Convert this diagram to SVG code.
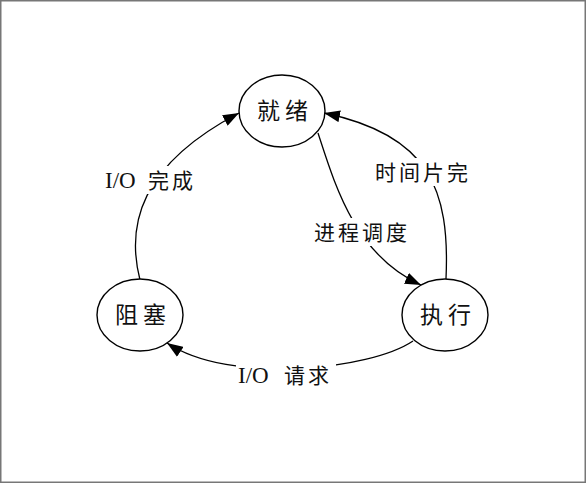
<svg xmlns="http://www.w3.org/2000/svg" width="586" height="483" viewBox="0 0 586 483">
<style>
.node ellipse{fill:#fff;stroke:#000;stroke-width:1.4}
.node text{font-family:"Liberation Serif","Noto Sans CJK SC",serif;font-size:23px;fill:#111;text-anchor:middle;letter-spacing:5px}
.edge path{fill:none;stroke:#000;stroke-width:1.3}
.lbl{font-family:"Liberation Serif","Noto Sans CJK SC",serif;font-size:21px;fill:#111;text-anchor:middle;letter-spacing:3px}
.lbl.s{text-anchor:start}
.io{letter-spacing:0;font-size:23px}
.bg{fill:#fff}
</style>
<defs>
<marker id="arr" markerUnits="userSpaceOnUse" markerWidth="17" markerHeight="12" refX="16" refY="6" orient="auto">
<path d="M0,0 L16,6 L0,12 z" fill="#000"/>
</marker>
</defs>
<rect x="0" y="0" width="586" height="483" fill="#fff"/>
<rect x="0.75" y="0.75" width="584.5" height="481.5" fill="none" stroke="#777" stroke-width="1.5"/>
<g id="connectors" class="edge">
<path d="M140,280 C126,225 140,165 239,113" marker-end="url(#arr)"/>
<path d="M318,133 C335,185 355,255 421,285" marker-end="url(#arr)"/>
<path d="M446,279 C450,190 430,135 324,113" marker-end="url(#arr)"/>
<path d="M413,341 C370,370 230,385 167,343" marker-end="url(#arr)"/>
</g>
<g id="labels">
<rect class="bg" x="103" y="166" width="98" height="28"/>
<text class="lbl s" y="188"><tspan class="io" x="105">I/O</tspan><tspan x="148">完成</tspan></text>
<rect class="bg" x="308" y="218" width="104" height="28"/>
<text class="lbl" x="362" y="240">进程调度</text>
<rect class="bg" x="371" y="158" width="102" height="28"/>
<text class="lbl" x="423" y="180">时间片完</text>
<rect class="bg" x="236" y="361" width="100" height="28"/>
<text class="lbl s" y="383"><tspan class="io" x="238">I/O</tspan><tspan x="284">请求</tspan></text>
</g>
<g id="node-ready" class="node">
<ellipse cx="282" cy="111" rx="43" ry="36"/>
<text x="285" y="119">就绪</text>
</g>
<g id="node-blocked" class="node">
<ellipse cx="140" cy="315" rx="43" ry="36"/>
<text x="143" y="323">阻塞</text>
</g>
<g id="node-running" class="node">
<ellipse cx="445" cy="315" rx="43" ry="36"/>
<text x="448" y="323">执行</text>
</g>
</svg>
